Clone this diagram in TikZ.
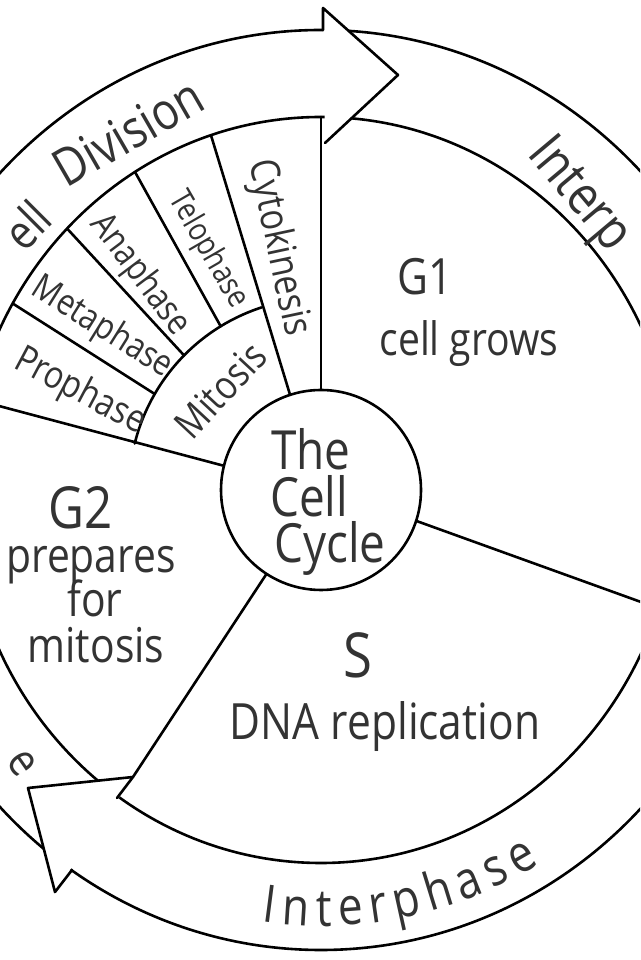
\documentclass[tikz,border=0pt]{standalone}
\usepackage{fontspec}
\newfontfamily\hand[FakeStretch=0.85]{Open Sans}
\usetikzlibrary{decorations.text}
\definecolor{txt}{gray}{0.2}
\begin{document}
\begin{tikzpicture}[x=1pt,y=1pt,
  ln/.style={line width=2.6pt, line join=round, line cap=round},
  lbl/.style={font=\hand\fontsize{#1}{#1}\selectfont, text=txt, inner sep=0pt},
]
\useasboundingbox (0,0) rectangle (640,960);
\clip (0,0) rectangle (640,960);
\fill[white] (0,0) rectangle (640,960);
\coordinate (C) at (321,470);

% outer rings (band of the arrows)
\draw[ln] (C) ellipse[x radius=356pt, y radius=373pt];
\draw[ln] (C) ellipse[x radius=443pt, y radius=460pt];

% arrowhead top (Cell Division)
\coordinate (tTip) at (398,885);
\coordinate (tOut) at (323,952);
\coordinate (tIn) at (325,817);
\coordinate (tNo) at (323,930);
\fill[white] (tOut) -- (tTip) -- (tIn) -- cycle;
\draw[ln] (tNo) -- (tOut) -- (tTip) -- (tIn);

% arrowhead bottom-left (Interphase)
\coordinate (bTip) at (28,172);
\coordinate (bIn) at (133,183);
\coordinate (bOut) at (55,68);
\coordinate (bNi) at (117,162);
\coordinate (bNo) at (72,90);
\fill[white] (bIn) -- (bTip) -- (bOut) -- cycle;
\draw[ln] (bNi) -- (bIn) -- (bTip) -- (bOut) -- (bNo);

% centre circle
\node[circle, draw, line width=2.6pt, minimum size=200pt, inner sep=0pt] (cc) at (C) {};

% sector boundaries
\coordinate (e90) at ([shift={(90:356pt and 373pt)}]C);
\coordinate (e108) at ([shift={(108:356pt and 373pt)}]C);
\coordinate (e121) at ([shift={(121.5:356pt and 373pt)}]C);
\coordinate (e135) at ([shift={(135.5:356pt and 373pt)}]C);
\coordinate (e150) at ([shift={(150:356pt and 373pt)}]C);
\coordinate (e166) at ([shift={(166:356pt and 373pt)}]C);
\coordinate (e341) at ([shift={(-18.5:356pt and 373pt)}]C);
\coordinate (m108) at ([shift={(108:192pt)}]C);
\coordinate (m121) at ([shift={(121.5:192pt)}]C);
\coordinate (m135) at ([shift={(135.5:192pt)}]C);
\coordinate (m150) at ([shift={(150:192pt)}]C);

\draw[ln] (cc.90) -- (e90);
\draw[ln] (cc.108) -- (e108);
\draw[ln] (cc.166) -- (e166);
\draw[ln] (cc.-18.5) -- (e341);
\draw[ln] (cc.237) -- (bIn);
\draw[ln] (m108) arc[start angle=108, end angle=166, radius=192pt];
\draw[ln] (m121) -- (e121);
\draw[ln] (m135) -- (e135);
\draw[ln] (m150) -- (e150);

% texts
\node[lbl=50] (g1) at (425,683) {G1};
\node[lbl=46, anchor=base] (g1t) at (469,604) {cell grows};
\node[lbl=54, anchor=base] (c1) at (311,490) {The};
\node[lbl=54, anchor=base] (c2) at (309,443) {Cell};
\node[lbl=54, anchor=base] (c3) at (330,397) {Cycle};
\node[lbl=58] (g2) at (81,452) {G2};
\node[lbl=48, anchor=base] (g2a) at (91,387) {prepares};
\node[lbl=48, anchor=base] (g2b) at (95,343) {for};
\node[lbl=48, anchor=base] (g2c) at (96,297) {mitosis};
\node[lbl=62] (s) at (358,305) {S};
\node[lbl=50, anchor=base] (s2) at (385,220) {DNA replication};
\node[lbl=38, rotate=-28] (pro) at (80,568) {Prophase};
\node[lbl=36, rotate=-32] (met) at (102,632) {Metaphase};
\node[lbl=36, rotate=-53] (ana) at (140,685) {Anaphase};
\node[lbl=32, rotate=-60] (tel) at (208,710) {Telophase};
\node[lbl=40, rotate=-78] (cyt) at (278,712) {Cytokinesis};
\node[lbl=40, rotate=47] (mit) at (220,570) {Mitosis};
\node[lbl=48, rotate=45] (cd1) at (27,735) {ell};
\node[lbl=52, rotate=30] (cd2) at (128,828) {Division};
\node[lbl=54, rotate=-50, anchor=west] (ip1) at (536,814) {Interp};
\node[lbl=46, rotate=-55] (lf) at (22,197) {e};
\path[decorate, decoration={text along path, text align=fit to path,
   text={|\hand\fontsize{52}{52}\selectfont\color{txt}|Interphase}}]
   (C) ++(262:424pt and 436pt) arc[start angle=262, end angle=301, x radius=424pt, y radius=436pt];
\end{tikzpicture}
\end{document}
